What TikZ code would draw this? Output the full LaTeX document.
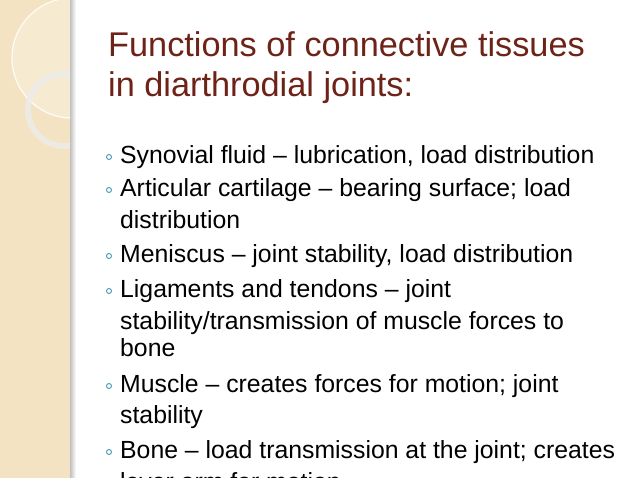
\documentclass[tikz,border=0pt]{standalone}
\usepackage{fontspec}
\setmainfont{Liberation Sans}
\definecolor{strip}{HTML}{F3E3C2}
\definecolor{ttl}{HTML}{6E2318}
\definecolor{bul}{HTML}{4A9BB0}
\begin{document}
\begin{tikzpicture}[x=1pt,y=-1pt,
  tl/.style={anchor=base west,inner sep=0pt,font=\fontsize{34.3}{40}\selectfont,text=ttl},
  bl/.style={anchor=base west,inner sep=0pt,font=\fontsize{24.8}{30}\selectfont},
  dot/.style={draw=bul,line width=0.9pt,circle,inner sep=0pt,minimum size=5pt}]
\useasboundingbox (0,0) rectangle (638,478);
\fill[white] (0,0) rectangle (638,478);
\fill[strip] (0,0) rectangle (70,478);
\shade[left color=black!25,right color=white] (70,0) rectangle (76,478);
\begin{scope}
\clip (0,0) rectangle (70,478);
\fill[white,opacity=0.25] (72,58) circle (60);
\draw[white!90!strip,line width=1.2pt] (72,58) circle (60);
\draw[white!85!gray,line width=6pt,opacity=0.8] (64,110) circle (36);
\end{scope}
\node[tl] (t1) at (108,57) {Functions of connective tissues};
\node[tl] (t2) at (108,97) {in diarthrodial joints:};
\foreach \y/\b/\t [count=\i] in {
 164/1/{Synovial fluid – lubrication, load distribution},
 197/1/{Articular cartilage – bearing surface; load},
 229/0/{distribution},
 263/1/{Meniscus – joint stability, load distribution},
 298/1/{Ligaments and tendons – joint},
 330/0/{stability/transmission of muscle forces to},
 357/0/{bone},
 393/1/{Muscle – creates forces for motion; joint},
 424/0/{stability},
 459/1/{Bone – load transmission at the joint; creates},
 491/0/{lever arm for motion}}{
 \node[bl] (l\i) at (120,\y) {\t};
 \ifnum\b=1 \node[dot] (d\i) at (109,\y-7) {};\fi
}
\end{tikzpicture}
\end{document}
